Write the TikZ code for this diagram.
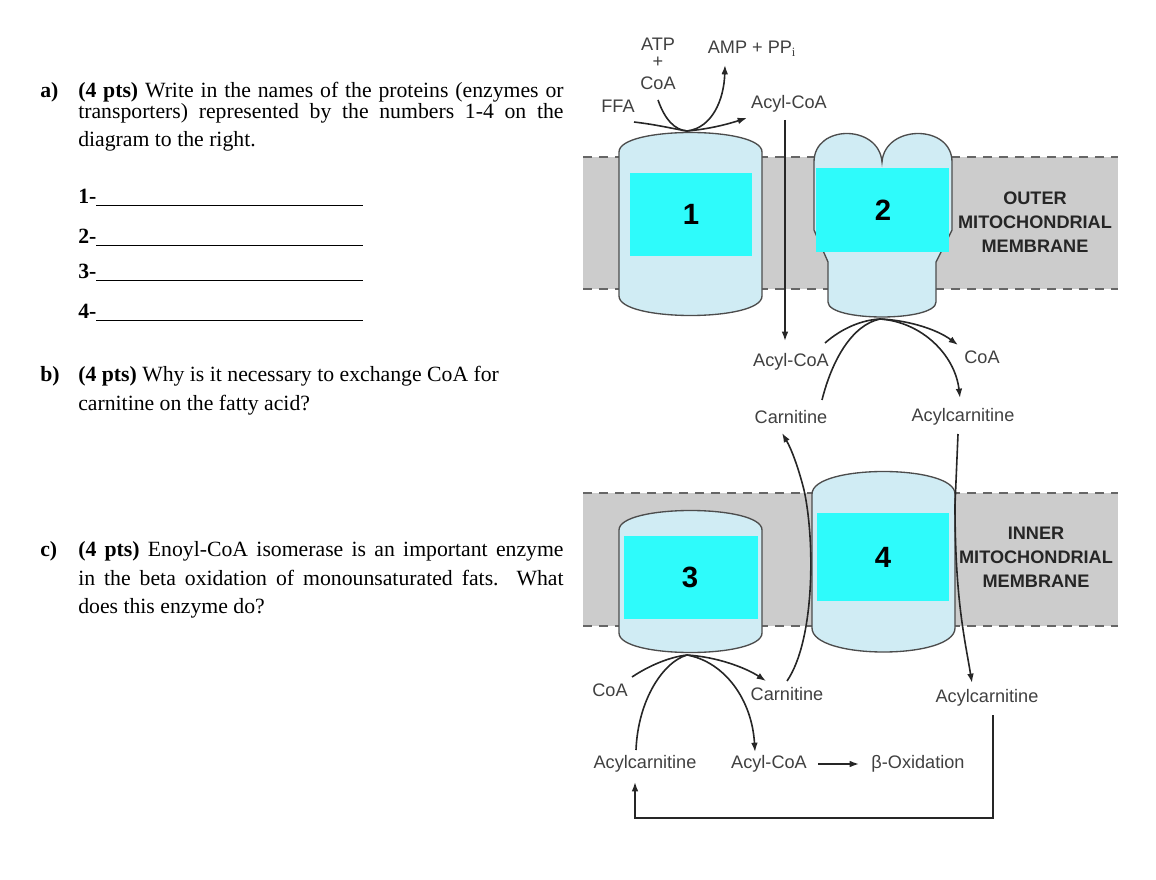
\documentclass[tikz,border=0pt]{standalone}
\usepackage{fontspec}
\usetikzlibrary{arrows.meta}
\setmainfont{Liberation Serif}
\newfontfamily\lsans{Liberation Sans}
\definecolor{cy}{RGB}{46,251,251}
\definecolor{pl}{RGB}{208,236,244}
\begin{document}
\begin{tikzpicture}[x=0.75pt,y=-0.75pt,
  qtext/.style={anchor=base west,inner sep=0,font=\fontsize{16.3}{18}\selectfont},
  lab/.style={inner sep=0,text=black!75,font=\lsans\fontsize{13.6}{15}\selectfont},
  mem/.style={inner sep=0,text=black!85,align=center,font=\lsans\bfseries\fontsize{13.6}{18}\selectfont},
  prot/.style={draw=black!70,line width=1pt,fill=pl},
  box/.style={fill=cy},
  num/.style={font=\lsans\bfseries\fontsize{22}{22}\selectfont},
  arr/.style={line width=1.2pt,black!85,-{Latex[length=7pt,width=5pt]}},
  ln/.style={line width=1.2pt,black!85}]
\useasboundingbox (0,0) rectangle (1156,880);
% ---- left text
\newcommand\jl[1]{\makebox[364pt][s]{#1}}
\node[qtext] (a1) at (40,98) {\textbf{a)}};
\node[qtext] (a2) at (78,98) {\jl{\textbf{(4 pts)} Write in the names of the proteins (enzymes or}};
\node[qtext] (a3) at (78,119) {\jl{transporters) represented by the numbers 1-4 on the}};
\node[qtext] (a4) at (78,147) {diagram to the right.};
\foreach \i/\y in {1/204,2/244,3/279,4/319}{
  \node[qtext] (n\i) at (78,\y) {\textbf{\i-}\rule[-1.5pt]{200pt}{0.6pt}};}
\node[qtext] (b1) at (40,382) {\textbf{b)}};
\node[qtext] (b2) at (78,382) {\textbf{(4 pts)} Why is it necessary to exchange CoA for};
\node[qtext] (b3) at (78,411) {carnitine on the fatty acid?};
\node[qtext] (c1) at (40,556) {\textbf{c)}};
\node[qtext] (c2) at (78,556) {\jl{\textbf{(4 pts)} Enoyl-CoA isomerase is an important enzyme}};
\node[qtext] (c3) at (78,585) {\jl{in the beta oxidation of monounsaturated fats. What}};
\node[qtext] (c4) at (78,613) {does this enzyme do?};
% ---- membranes
\foreach \t/\b in {157/289,493/626}{
  \fill[black!20] (583,\t) rectangle (1118,\b);
  \draw[black!60,dashed,dash pattern=on 7pt off 5pt,line width=1pt] (583,\t) -- (1118,\t) (583,\b) -- (1118,\b);}
\node[mem] (om) at (1035,222) {OUTER\\MITOCHONDRIAL\\MEMBRANE};
\node[mem] (im) at (1036,557) {INNER\\MITOCHONDRIAL\\MEMBRANE};
% ---- proteins
\draw[prot] (619,152) .. controls (619,126) and (762,126) .. (762,152) -- (762,296)
  .. controls (762,322) and (619,322) .. (619,296) -- cycle;
\draw[prot] (814,162) .. controls (814,124) and (879,124) .. (882,162)
  .. controls (885,124) and (952,124) .. (952,162) -- (952,230) -- (936,262) -- (936,302)
  .. controls (936,322) and (828,322) .. (828,302) -- (828,262) -- (814,230) -- cycle;
\draw[prot] (619,530) .. controls (619,504) and (762,504) .. (762,530) -- (762,633)
  .. controls (762,659) and (619,659) .. (619,633) -- cycle;
\draw[prot] (812,494) .. controls (812,464) and (955,464) .. (955,494) -- (955,628)
  .. controls (955,660) and (812,660) .. (812,628) -- cycle;
\fill[box] (630,173) rectangle (752,256);
\fill[box] (816,168) rectangle (949,252);
\fill[box] (624,536) rectangle (758,619);
\fill[box] (817,513) rectangle (949,601);
\node[num] (l1) at (691,214) {1};
\node[num] (l2) at (883,210) {2};
\node[num] (l3) at (690,577) {3};
\node[num] (l4) at (883,557) {4};
% ---- labels
\node[lab] (atp) at (658,44) {ATP};
\node[lab] (plus) at (658,62) {+};
\node[lab] (coa0) at (658,83) {CoA};
\node[lab] (ffa) at (618,106) {FFA};
\node[lab] (amp) at (752,49) {AMP + PP$_{\mathrm{i}}$};
\node[lab] (acoa0) at (789,104) {Acyl-CoA};
\node[lab] (acoa1) at (791,362) {Acyl-CoA};
\node[lab] (coa1) at (982,357) {CoA};
\node[lab] (car1) at (791,417) {Carnitine};
\node[lab] (acar1) at (963,417) {Acylcarnitine};
\node[lab] (coa2) at (610,690) {CoA};
\node[lab] (car2) at (787,694) {Carnitine};
\node[lab] (acar2) at (987,698) {Acylcarnitine};
\node[lab] (acar3) at (645,764) {Acylcarnitine};
\node[lab] (acoa3) at (769,764) {Acyl-CoA};
\node[lab] (box) at (918,764) {β-Oxidation};
% ---- top arrows at 1
\coordinate (t1) at (687,131);
\draw[ln] (634,122) .. controls (659,125) and (674,129) .. (t1);
\draw[ln] (658,100) .. controls (665,120) and (675,130) .. (t1);
\draw[arr] (t1) .. controls (712,128) and (724,100) .. (725,65);
\draw[arr] (t1) .. controls (710,129) and (728,124) .. (747,118);
\draw[arr] (785,120) -- (785,341);
% ---- arrows at 2
\coordinate (t2) at (880,319);
\draw[ln] (825,343) .. controls (842,328) and (862,320) .. (t2);
\draw[arr] (t2) .. controls (905,320) and (935,328) .. (958,345);
\draw[ln] (822,400) .. controls (832,360) and (852,325) .. (t2);
\draw[arr] (t2) .. controls (922,322) and (955,355) .. (960,398);
% carnitine / acylcarnitine through 4
\draw[arr] (787,681) .. controls (815,640) and (815,540) .. (804,490) .. controls (799,470) and (792,450) .. (782,433);
\draw[arr] (958,434) -- (955,505) .. controls (955,600) and (965,640) .. (972,683);
% ---- arrows at 3
\coordinate (t3) at (687,655);
\draw[ln] (632,677) .. controls (650,665) and (670,657) .. (t3);
\draw[arr] (t3) .. controls (718,657) and (746,668) .. (766,681);
\draw[ln] (636,750) .. controls (638,700) and (663,662) .. (t3);
\draw[arr] (t3) .. controls (725,662) and (752,700) .. (755,752);
\draw[arr] (818,764) -- (859,764);
\draw[ln,-{Latex[length=7pt,width=5pt]}] (993,715) -- (993,818) -- (635,818) -- (635,782);
\end{tikzpicture}
\end{document}
